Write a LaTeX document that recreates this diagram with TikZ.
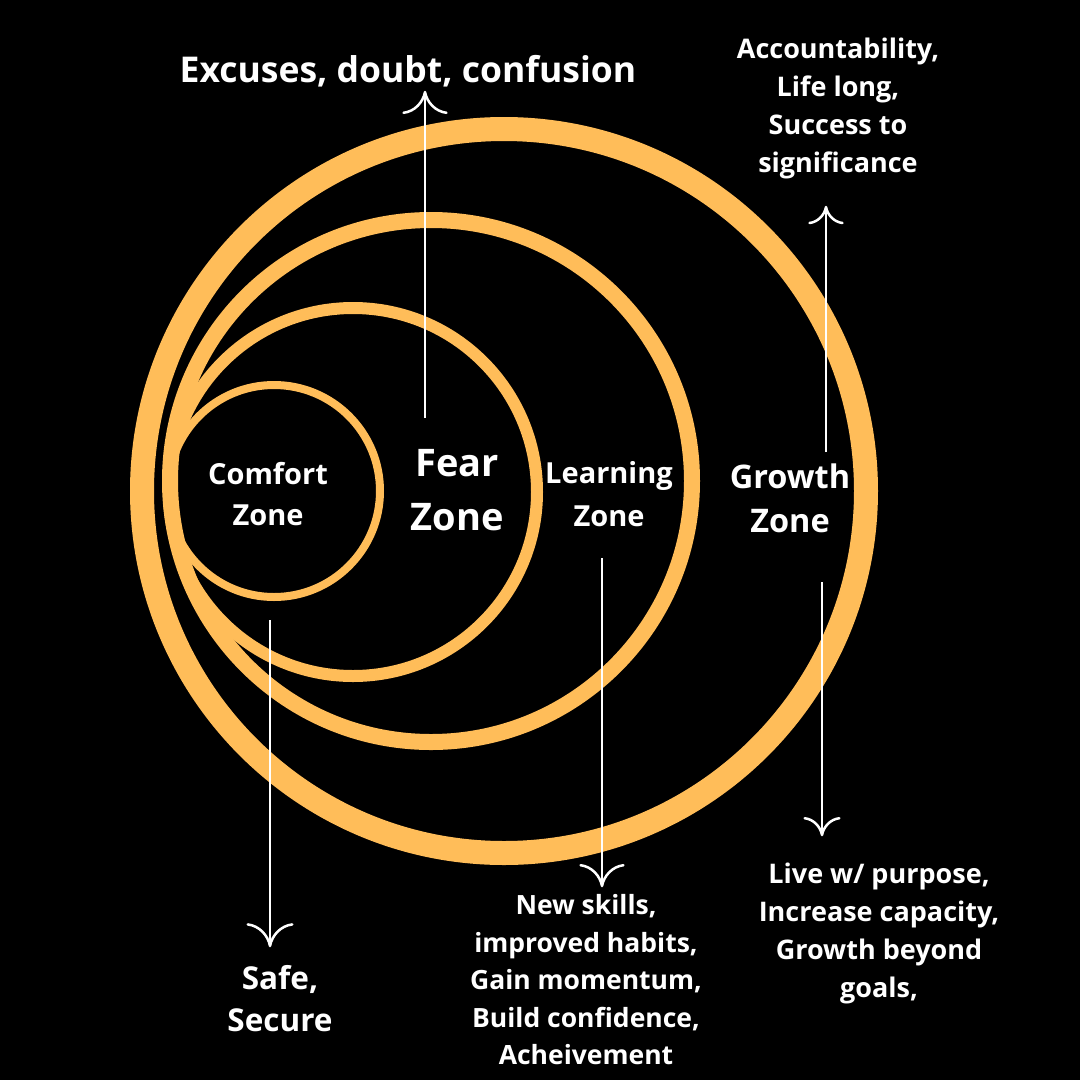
\documentclass[tikz,border=0pt]{standalone}
\usepackage{fontspec}
\setmainfont{Open Sans}
\definecolor{ring}{HTML}{FFBD59}
\begin{document}
\begin{tikzpicture}[x=1pt,y=-1pt,
  lbl/.style={text=white, align=center, inner sep=0pt},
  arr/.style={draw=white, line width=2.5pt},
  barbtip/.pic={\draw[white, line width=2.5pt, line cap=round, line join=round]
     (-16.5,16) .. controls (-8,15) and (-1.5,8) .. (0,0) .. controls (1.5,8) and (8,15) .. (16.5,16);}]
\fill[black] (0,0) rectangle (1080,1080);
\useasboundingbox (0,0) rectangle (1080,1080);
% rings
\draw[ring, line width=24pt] (504,491) circle[radius=362];
\draw[ring, line width=16pt] (431,481) circle[radius=261];
\draw[ring, line width=12pt] (353,492) circle[radius=184];
\draw[ring, line width=8pt] (274,491) circle[radius=106];
% labels
\node[lbl, font=\bfseries\fontsize{35.5}{40}\selectfont] (exc) at (408,71) {Excuses, doubt, confusion};
\node[lbl, font=\bfseries\fontsize{27}{38}\selectfont] (acc) at (838,108) {Accountability,\\Life long,\\Success to\\significance};
\node[lbl, font=\bfseries\fontsize{29}{41}\selectfont] (comfort) at (268,494) {Comfort\\Zone};
\node[lbl, font=\bfseries\fontsize{38}{54}\selectfont] (fear) at (457,490) {Fear\\Zone};
\node[lbl, font=\bfseries\fontsize{29}{43}\selectfont] (learn) at (609,494) {Learning\\Zone};
\node[lbl, font=\bfseries\fontsize{32.5}{44}\selectfont] (growth) at (790,498) {Growth\\Zone};
\node[lbl, font=\bfseries\fontsize{31.5}{42}\selectfont] (safe) at (280,999) {Safe,\\Secure};
\node[lbl, font=\bfseries\fontsize{26.5}{37.5}\selectfont] (skills) at (586,980) {New skills,\\improved habits,\\Gain momentum,\\Build confidence,\\Acheivement};
\node[lbl, font=\bfseries\fontsize{27}{38}\selectfont] (live) at (879,933) {Live w/ purpose,\\Increase capacity,\\Growth beyond\\goals,};
% arrow ends
\coordinate (fearS) at (425,418);
\coordinate (fearE) at (425,92);
\coordinate (gUpS) at (826,452);
\coordinate (gUpE) at (826,207);
\coordinate (gDnS) at (822,582);
\coordinate (gDnE) at (822,835);
\coordinate (lDnS) at (602,558);
\coordinate (lDnE) at (602,886);
\coordinate (cDnS) at (270,620);
\coordinate (cDnE) at (270,946);
\draw[arr] (fearS) -- (fearE) pic[scale=1.3] {barbtip};
\draw[arr] (gUpS) -- (gUpE) pic {barbtip};
\draw[arr] (gDnS) -- (gDnE) pic[rotate=180, scale=1.05] {barbtip};
\draw[arr] (lDnS) -- (lDnE) pic[rotate=180, scale=1.3] {barbtip};
\draw[arr] (cDnS) -- (cDnE) pic[rotate=180, scale=1.35] {barbtip};
\end{tikzpicture}
\end{document}
